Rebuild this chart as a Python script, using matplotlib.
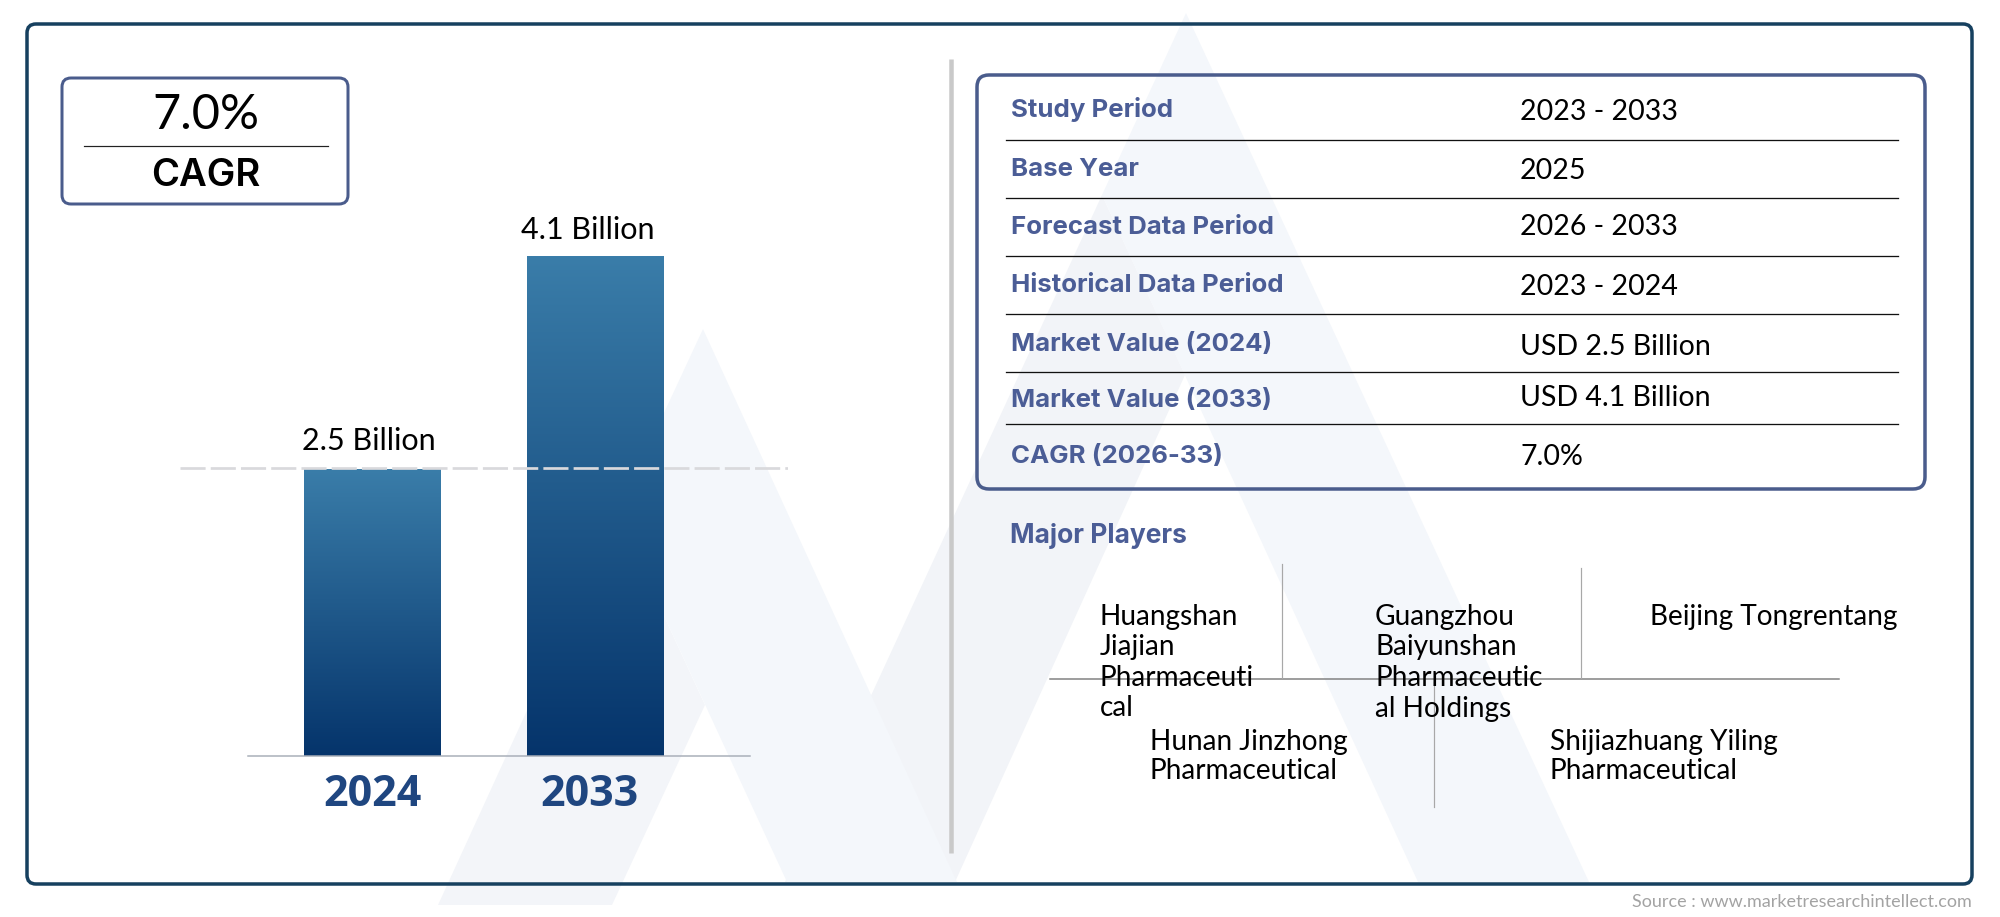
import numpy as np
import matplotlib
matplotlib.use('Agg')
import matplotlib.pyplot as plt
from matplotlib.colors import LinearSegmentedColormap
from matplotlib.patches import FancyBboxPatch, Polygon

W, H = 2000, 917

# chart data
years = ['2024', '2033']
bar_heights = [2.35, 4.1]
bar_labels = ['2.5 Billion', '4.1 Billion']
cagr_value = '7.0%'
cagr_label = 'CAGR'

table_keys = ['Study Period', 'Base Year', 'Forecast Data Period', 'Historical Data Period',
              'Market Value (2024)', 'Market Value (2033)', 'CAGR (2026-33)']
table_values = ['2023 - 2033', '2025', '2026 - 2033', '2023 - 2024',
                'USD 2.5 Billion', 'USD 4.1 Billion', '7.0%']

players_title = 'Major Players'
players = [['Huangshan', 'Jiajian', 'Pharmaceuti', 'cal'],
           ['Guangzhou', 'Baiyunshan', 'Pharmaceutic', 'al Holdings'],
           ['Beijing Tongrentang'],
           ['Hunan Jinzhong', 'Pharmaceutical'],
           ['Shijiazhuang Yiling', 'Pharmaceutical']]
source = 'Source : www.marketresearchintellect.com'

VALUE_FONT = 'Lato'
HEAD_FONT = 'Inter'
NAVY = '#16405f'
BOX = '#4a5c8c'
KEY = '#4b5d96'


def px(n):
    # pixel widths to points
    return n * 72 / 100


def rbox(ax, x0, y0, x1, y1, color, lw, r=10, **kw):
    ax.add_patch(FancyBboxPatch((x0, y0), x1 - x0, y1 - y0, boxstyle=f'round,pad=0,rounding_size={r}',
                                fc='none', ec=color, lw=px(lw), **kw))


fig = plt.figure(figsize=(W / 100, H / 100), dpi=100, facecolor='white')

# background layer in pixel coordinates
bg = fig.add_axes([0, 0, 1, 1], zorder=0)
bg.set_xlim(0, W)
bg.set_ylim(H, 0)
bg.axis('off')

# watermark: right chevron first, left one sits on top of it
watermark = [
    ([(1102, 195), (1185, 375), (955, 882), (785, 882)], '#f2f4f8'),
    ([(1186, 13), (1589, 882), (1418, 882), (1102, 195)], '#f4f7fb'),
    ([(617, 514), (705, 705), (612, 905), (438, 905)], '#f3f5f9'),
    ([(703, 329), (957, 882), (787, 882), (617, 514)], '#f4f7fb'),
]
for pts, col in watermark:
    bg.add_patch(Polygon(pts, closed=True, fc=col, ec='none'))

rbox(bg, 27, 24, 1972, 884, NAVY, 3.5, r=9)
rbox(bg, 62, 78, 348, 204, BOX, 3, r=9)
rbox(bg, 977, 75, 1925, 489, BOX, 3.5, r=12)
bg.plot([951, 951], [59, 853], color='#c9c9c9', lw=px(4.5), solid_capstyle='butt')

# bars
left, right, top, base = 180, 788, 256, 756
bar_ax = fig.add_axes([left / W, 1 - base / H, (right - left) / W, (base - top) / H], zorder=1)
bar_ax.patch.set_alpha(0)
x_pos = np.arange(len(years))
unit = 223
bars = bar_ax.bar(x_pos, bar_heights, width=0.61, color='none')
cmap = LinearSegmentedColormap.from_list('bar', ['#3a7da9', '#05346b'])
grad = np.linspace(0, 1, 256).reshape(-1, 1)
for b in bars:
    im = bar_ax.imshow(grad, cmap=cmap, aspect='auto', zorder=2,
                       extent=[b.get_x(), b.get_x() + b.get_width(), 0, b.get_height()])
    im.set_clip_path(b)
xmin, xmax = (left - 372.5) / unit, (right - 372.5) / unit
bar_ax.set_xlim(xmin, xmax)
bar_ax.set_ylim(0, bar_heights[1])
for s in bar_ax.spines.values():
    s.set_visible(False)
bar_ax.set_yticks([])
bar_ax.set_xticks([0, 0.973], years, fontfamily='Open Sans', fontweight='bold',
                  fontsize=31, color='#1f4680')
bar_ax.tick_params(axis='x', length=0, pad=12)
bar_ax.plot([(249 - 373) / unit, (750 - 373) / unit], [0, 0], color='#a8aeb8', lw=px(1.5), zorder=3, clip_on=False)
bar_ax.plot([xmin, xmax], [2.36, 2.36], color='#d9d9dc', lw=px(2.7), dashes=(9.3, 1.9), zorder=3)

# text and thin rules on top
fg = fig.add_axes([0, 0, 1, 1], zorder=2)
fg.set_xlim(0, W)
fg.set_ylim(H, 0)
fg.axis('off')

fg.text(369, 441, bar_labels[0], family=VALUE_FONT, fontsize=22, ha='center', va='center', color='black')
fg.text(588, 230, bar_labels[1], family=VALUE_FONT, fontsize=22, ha='center', va='center', color='black')

fg.text(206, 115, cagr_value, family=VALUE_FONT, fontsize=35, ha='center', va='center', color='black')
fg.plot([84, 328], [146, 146], color='#222222', lw=px(1.2))
fg.text(206, 176, cagr_label, family=HEAD_FONT, fontweight='semibold', fontsize=27.5, ha='center', va='center',
        color='black')

key_y = [110, 170, 228, 286, 344, 400, 457]
value_y = [112, 171, 227, 287, 347, 398, 457]
rule_y = [140, 198, 256, 314, 372, 424]
for k, v, ky, vy in zip(table_keys, table_values, key_y, value_y):
    fg.text(1011, ky, k, family=HEAD_FONT, fontweight='bold', fontsize=18.6, ha='left', va='center', color=KEY)
    fg.text(1520, vy, v, family=VALUE_FONT, fontsize=20.5, ha='left', va='center', color='black')
for y in rule_y:
    fg.plot([1006, 1898], [y, y], color='#111111', lw=px(1.3))

fg.text(1010, 536, players_title, family=HEAD_FONT, fontweight='bold', fontsize=19, ha='left', va='center',
        color=KEY)

player_x = [1100, 1375, 1650, 1150, 1550]
player_y = [617, 617, 617, 742, 742]
player_step = [30.5, 30.5, 30, 29, 29]
for lines, x, y, step in zip(players, player_x, player_y, player_step):
    for i, line in enumerate(lines):
        fg.text(x, y + i * step, line, family=VALUE_FONT, fontsize=20.2, ha='left', va='center', color='black')

fg.plot([1050, 1839], [679, 679], color='#808080', lw=px(1.5))
fg.plot([1282, 1282], [564, 678], color='#a8a8a8', lw=px(1.2))
fg.plot([1581, 1581], [568, 678], color='#a8a8a8', lw=px(1.2))
fg.plot([1434, 1434], [682, 807], color='#a8a8a8', lw=px(1.2))

fg.text(1972, 902, source, family=VALUE_FONT, fontsize=13, ha='right', va='center', color='#a3a3a3')

fig.savefig('out.png', dpi=100)
